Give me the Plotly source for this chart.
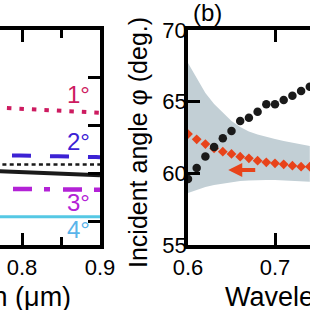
import plotly.graph_objects as go

# ---------------- data ----------------
# right panel (b)
wl_b = [0.60, 0.61, 0.62, 0.63, 0.64, 0.65, 0.66, 0.67, 0.68, 0.69, 0.70, 0.71, 0.72, 0.73, 0.74]
phi_black = [59.60, 60.37, 61.17, 61.84, 62.44, 62.95, 63.65, 63.88, 64.30, 64.82, 64.82, 65.12, 65.42, 65.74, 66.04]
phi_orange = [62.74, 62.37, 62.04, 61.74, 61.51, 61.35, 61.16, 61.05, 60.88, 60.77, 60.70, 60.63, 60.53, 60.46, 60.46]
band_upper = [67.70, 66.65, 65.60, 64.84, 64.24, 63.65, 63.23, 62.92, 62.71, 62.53, 62.39, 62.25, 62.15, 62.01, 61.91]
band_lower = [58.63, 58.84, 59.05, 59.18, 59.29, 59.40, 59.47, 59.50, 59.53, 59.53, 59.53, 59.50, 59.47, 59.45, 59.42]

# left panel (a), visible part only
wl_a = [0.70, 0.80, 0.90]
curve_1deg = [2.932, 2.850, 2.768]
curve_2deg = [1.904, 1.871, 1.838]
curve_ref_dotted = [1.684, 1.684, 1.684]
curve_ref_solid = [1.589, 1.524, 1.458]
curve_3deg = [1.189, 1.173, 1.156]
curve_4deg = [0.592, 0.592, 0.592]
angle_labels = ["1°", "2°", "3°", "4°"]
angle_label_y = [3.16, 2.16, 0.88, 0.32]

left_yticks = [0.5, 1.5, 2.5, 3.5]
right_yticks = [55, 60, 65, 70]

# ---------------- style ----------------
FONT = "Liberation Sans, Arial, sans-serif"
W, H = 310, 310
LW = 3.5
ORANGE = "#e8431a"
BLACK = "#1a1a1a"
C1 = "#cd1b60"
C2 = "#3c22d4"
C3 = "#b322d6"
C4 = "#55c8e4"
C4T = "#5ab4ea"

fig = go.Figure()

# left panel curves
def add_line(y, color, width, dash):
    fig.add_trace(go.Scatter(x=wl_a, y=y, mode="lines", xaxis="x", yaxis="y",
                             line=dict(color=color, width=width, dash=dash),
                             showlegend=False, hoverinfo="skip"))

add_line(curve_1deg, C1, 4, "0px,0.5px,4.5px,7.5px")
add_line(curve_2deg, C2, 4, "11px,19px,8px,0px")
add_line(curve_ref_dotted, BLACK, 2.5, "4px,3.3px")
add_line(curve_ref_solid, BLACK, 4, "solid")
add_line(curve_3deg, C3, 4.5, "6px,13px,19px,12px")
add_line(curve_4deg, C4, 3, "solid")

# right panel band
fig.add_trace(go.Scatter(x=wl_b, y=band_lower, mode="lines", xaxis="x2", yaxis="y2",
                         line=dict(width=0, color="#c2cfd5"), showlegend=False, hoverinfo="skip"))
fig.add_trace(go.Scatter(x=wl_b, y=band_upper, mode="lines", xaxis="x2", yaxis="y2",
                         line=dict(width=0, color="#c2cfd5"), fill="tonexty",
                         fillcolor="#c2cfd5", showlegend=False, hoverinfo="skip"))
fig.add_trace(go.Scatter(x=wl_b, y=phi_orange, mode="markers", xaxis="x2", yaxis="y2",
                         marker=dict(symbol="diamond", size=7.5, color=ORANGE, line=dict(width=0)),
                         showlegend=False, hoverinfo="skip"))
fig.add_trace(go.Scatter(x=wl_b, y=phi_black, mode="markers", xaxis="x2", yaxis="y2",
                         marker=dict(symbol="circle", size=8.5, color=BLACK, line=dict(width=0)),
                         showlegend=False, hoverinfo="skip"))

tickfont = dict(family=FONT, size=22, color="black")
axcommon = dict(showgrid=False, zeroline=False, showline=True, linecolor="black",
                linewidth=LW, ticks="inside", tickcolor="black", tickwidth=3, ticklen=12,
                tickfont=tickfont, automargin=False)

left_x0 = 0.9 - 100 / 780
right_x1 = 0.6 + 122 / 870

fig.update_layout(
    width=W, height=H,
    margin=dict(l=0, r=0, t=30, b=65, pad=0),
    paper_bgcolor="white", plot_bgcolor="white",
    font=dict(family=FONT, size=22, color="black"),
    xaxis=dict(axcommon, domain=[0, 100 / W], range=[left_x0, 0.9], anchor="y",
               mirror="ticks", tickvals=[0.8, 0.9], ticktext=["0.8", "0.9"],
               minor=dict(ticks="inside", ticklen=8, tickwidth=3, tickcolor="black",
                          tickvals=[0.85])),
    yaxis=dict(axcommon, domain=[0, 1], range=[0, 4.5], anchor="x", side="right",
               tickvals=left_yticks, showticklabels=False),
    xaxis2=dict(axcommon, domain=[188 / W, 1], range=[0.6, right_x1], anchor="y2",
                mirror="ticks", tickvals=[0.6, 0.7, 0.8], ticktext=["0.6", "0.7", "0.8"]),
    yaxis2=dict(axcommon, domain=[0, 1], range=[55, 70], anchor="x2",
                tickvals=right_yticks, ticklabelstandoff=-7),
)

annotations = []
for lab, yy, col in zip(angle_labels, angle_label_y, [C1, C2, C3, C4T]):
    annotations.append(dict(text=lab, x=0.8718, y=yy, xref="x", yref="y",
                            showarrow=False, xanchor="center", yanchor="middle",
                            font=dict(family=FONT, size=24, color=col)))
# axis titles (centered on full panels that extend past the crop)
annotations.append(dict(text="Wavelength (μm)", x=-32 / W, y=-52 / 215, xref="paper", yref="paper",
                        showarrow=False, xanchor="center", yanchor="middle",
                        font=dict(family=FONT, size=27, color="black")))
annotations.append(dict(text="Wavelength (μm)", x=327 / W, y=-52 / 215, xref="paper", yref="paper",
                        showarrow=False, xanchor="center", yanchor="middle",
                        font=dict(family=FONT, size=27, color="black")))
annotations.append(dict(text="Incident angle φ (deg.)", x=138 / W, y=(245 - 143) / 215,
                        xref="paper", yref="paper", textangle=-90, showarrow=False,
                        xanchor="center", yanchor="middle",
                        font=dict(family=FONT, size=25, color="black")))
annotations.append(dict(text="(b)", x=207 / W, y=(245 - 12) / 215, xref="paper", yref="paper",
                        showarrow=False, xanchor="center", yanchor="middle",
                        font=dict(family=FONT, size=24, color="black")))
# orange arrow
annotations.append(dict(text="", x=0.6463, y=60.23, ax=0.679, ay=60.23,
                        xref="x2", yref="y2", axref="x2", ayref="y2",
                        showarrow=True, arrowhead=2, arrowwidth=4, arrowsize=0.7,
                        arrowcolor=ORANGE, standoff=0))
fig.update_layout(annotations=annotations)

fig.write_html("out.html")
